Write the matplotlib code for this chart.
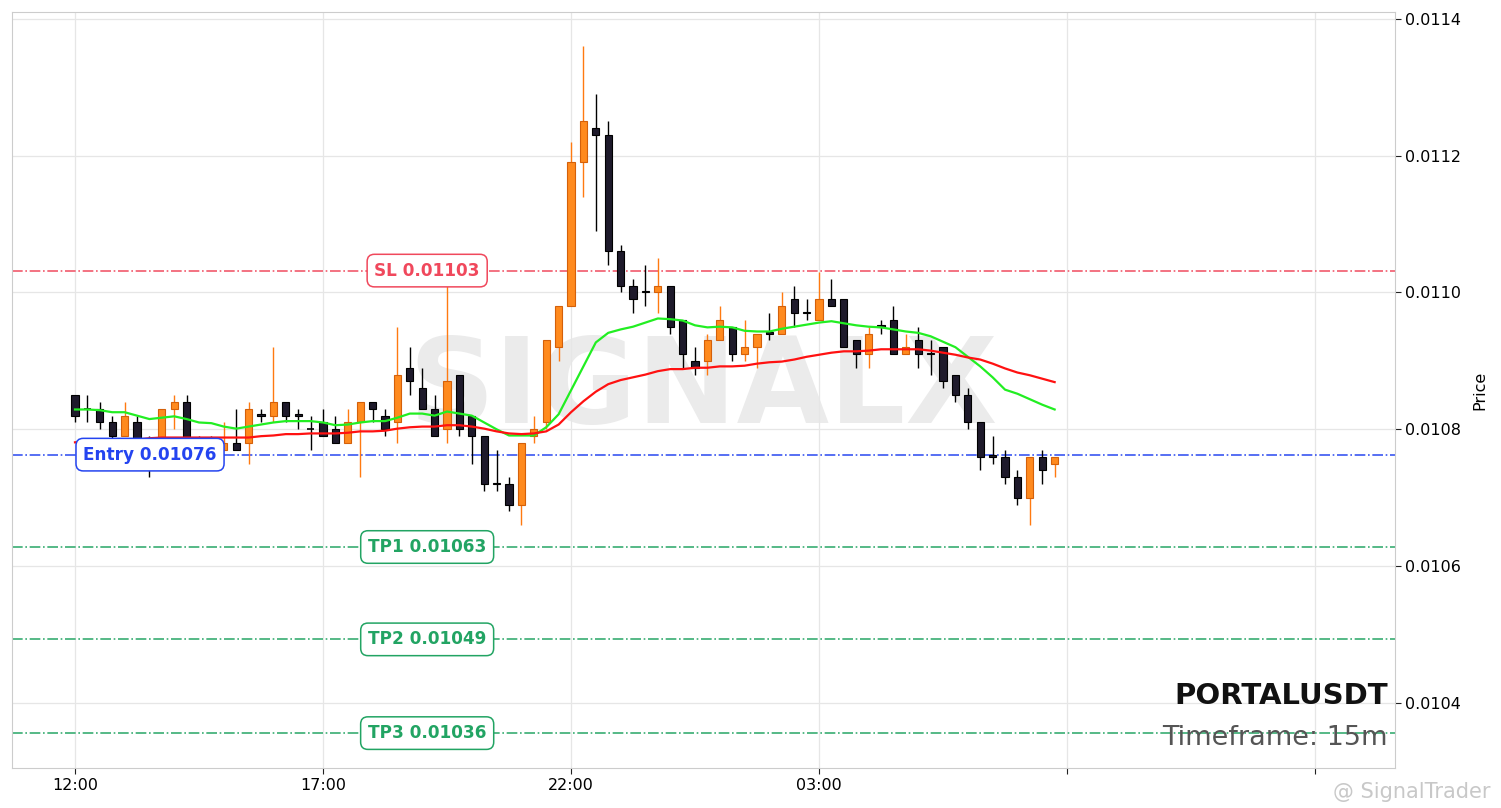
import numpy as np
import matplotlib
matplotlib.use("Agg")
import matplotlib.pyplot as plt

# 15m candles, 12:00 -> 07:45
opens = [0.01085, 0.01083, 0.01083, 0.01081, 0.01079, 0.01081, 0.01078, 0.01078, 0.01083, 0.01084,
         0.010785, 0.01078, 0.01077, 0.01078, 0.01078, 0.010822, 0.01082, 0.01084, 0.010822, 0.010801,
         0.01081, 0.01080, 0.01078, 0.01081, 0.01084, 0.01082, 0.01081, 0.01089, 0.01086, 0.01083,
         0.01080, 0.01088, 0.01082, 0.01079, 0.010722, 0.01072, 0.01069, 0.01079, 0.01081, 0.01092,
         0.01098, 0.01119, 0.01124, 0.01123, 0.01106, 0.01101, 0.011002, 0.01100, 0.01101, 0.01096,
         0.01090, 0.01090, 0.01093, 0.01095, 0.01091, 0.01092, 0.010942, 0.01094, 0.01099, 0.010972,
         0.01096, 0.01099, 0.01099, 0.01093, 0.01091, 0.010952, 0.01096, 0.01091, 0.01093, 0.010912,
         0.01092, 0.01088, 0.01085, 0.01081, 0.010762, 0.01076, 0.01073, 0.01070, 0.01076, 0.01075]
highs = [0.01085, 0.01085, 0.01084, 0.01082, 0.01084, 0.01082, 0.01079, 0.01083, 0.01085, 0.01085,
         0.01079, 0.01079, 0.01081, 0.01083, 0.01084, 0.01083, 0.01092, 0.01084, 0.01083, 0.01082,
         0.01083, 0.01082, 0.01083, 0.01084, 0.01084, 0.01083, 0.01095, 0.01092, 0.01089, 0.01085,
         0.01101, 0.01088, 0.01082, 0.01079, 0.01077, 0.01073, 0.01078, 0.01082, 0.01093, 0.01098,
         0.01122, 0.01136, 0.01129, 0.01125, 0.01107, 0.01102, 0.01104, 0.01105, 0.01101, 0.01096,
         0.01092, 0.01094, 0.01098, 0.01095, 0.01096, 0.01094, 0.01097, 0.01100, 0.01101, 0.01099,
         0.01103, 0.01102, 0.01099, 0.01093, 0.01095, 0.01096, 0.01098, 0.01094, 0.01095, 0.01093,
         0.01092, 0.01088, 0.01086, 0.01081, 0.01079, 0.01077, 0.01074, 0.01076, 0.01077, 0.01076]
lows = [0.01081, 0.01081, 0.01080, 0.01078, 0.01079, 0.01077, 0.01073, 0.01078, 0.01080, 0.01077,
        0.01077, 0.01077, 0.01077, 0.01077, 0.01075, 0.01081, 0.01081, 0.01081, 0.01080, 0.01077,
        0.01079, 0.01078, 0.01078, 0.01073, 0.01081, 0.01079, 0.01078, 0.01085, 0.01083, 0.01079,
        0.01078, 0.01079, 0.01075, 0.01071, 0.01071, 0.01068, 0.01066, 0.01078, 0.01080, 0.01090,
        0.01098, 0.01114, 0.01109, 0.01104, 0.01100, 0.01097, 0.01098, 0.01097, 0.01094, 0.01089,
        0.01088, 0.01088, 0.01093, 0.01090, 0.01090, 0.01089, 0.01093, 0.01094, 0.01095, 0.01096,
        0.01096, 0.01098, 0.01092, 0.01089, 0.01089, 0.01094, 0.01091, 0.01091, 0.01089, 0.01088,
        0.01086, 0.01084, 0.01080, 0.01074, 0.01075, 0.01072, 0.01069, 0.01066, 0.01072, 0.01073]
closes = [0.01082, 0.01083, 0.01081, 0.01079, 0.01082, 0.01078, 0.01077, 0.01083, 0.01084, 0.01078,
          0.01078, 0.010778, 0.01078, 0.01077, 0.01083, 0.01082, 0.01084, 0.01082, 0.01082, 0.01080,
          0.01079, 0.01078, 0.01081, 0.01084, 0.01083, 0.01080, 0.01088, 0.01087, 0.01083, 0.01079,
          0.01087, 0.01080, 0.01079, 0.01072, 0.01072, 0.01069, 0.01078, 0.01080, 0.01093, 0.01098,
          0.01119, 0.01125, 0.01123, 0.01106, 0.01101, 0.01099, 0.01100, 0.01101, 0.01095, 0.01091,
          0.01089, 0.01093, 0.01096, 0.01091, 0.01092, 0.01094, 0.01094, 0.01098, 0.01097, 0.01097,
          0.01099, 0.01098, 0.01092, 0.01091, 0.01094, 0.01095, 0.01091, 0.01092, 0.01091, 0.01091,
          0.01087, 0.01085, 0.01081, 0.01076, 0.01076, 0.01073, 0.01070, 0.01076, 0.01074, 0.01076]

ema_fast = [0.010829, 0.010829, 0.010828, 0.010825, 0.010825, 0.010820, 0.010815, 0.010817, 0.010819, 0.010815,
            0.010810, 0.010809, 0.010804, 0.010801, 0.010804, 0.010807, 0.010810, 0.010812, 0.010812, 0.010812,
            0.010810, 0.010806, 0.010807, 0.010810, 0.010812, 0.010812, 0.010817, 0.010823, 0.010823, 0.010820,
            0.010826, 0.010823, 0.010820, 0.010810, 0.010800, 0.010791, 0.010791, 0.010791, 0.010803, 0.010822,
            0.010857, 0.010892, 0.010927, 0.010941, 0.010946, 0.010950, 0.010956, 0.010962, 0.010961, 0.010959,
            0.010952, 0.010949, 0.010950, 0.010949, 0.010944, 0.010943, 0.010943, 0.010947, 0.010950, 0.010953,
            0.010956, 0.010958, 0.010955, 0.010952, 0.010950, 0.010949, 0.010946, 0.010943, 0.010941, 0.010936,
            0.010928, 0.010920, 0.010906, 0.010892, 0.010876, 0.010858, 0.010852, 0.010844, 0.010836, 0.010829]
ema_slow = [0.010781, 0.010782, 0.010784, 0.010785, 0.010785, 0.010785, 0.010787, 0.010788, 0.010788, 0.010788,
            0.010788, 0.010788, 0.010788, 0.010788, 0.010788, 0.010790, 0.010791, 0.010793, 0.010793, 0.010794,
            0.010794, 0.010794, 0.010795, 0.010797, 0.010797, 0.010798, 0.010801, 0.010803, 0.010804, 0.010804,
            0.010806, 0.010806, 0.010804, 0.010801, 0.010797, 0.010794, 0.010793, 0.010794, 0.010797, 0.010807,
            0.010825, 0.010841, 0.010855, 0.010866, 0.010872, 0.010876, 0.010880, 0.010885, 0.010888, 0.010888,
            0.010890, 0.010890, 0.010892, 0.010892, 0.010893, 0.010896, 0.010898, 0.010899, 0.010902, 0.010906,
            0.010909, 0.010912, 0.010914, 0.010914, 0.010915, 0.010917, 0.010917, 0.010917, 0.010917, 0.010915,
            0.010912, 0.010909, 0.010905, 0.010902, 0.010896, 0.010889, 0.010883, 0.010879, 0.010874, 0.010869]

entry = 0.010763
sl = 0.011032
tps = [0.010628, 0.010493, 0.010356]
tick_pos = [0, 20, 40, 60, 80, 100]
tick_labels = ["12:00", "17:00", "22:00", "03:00", "", ""]
symbol = "PORTALUSDT"
timeframe = "15m"

UP = "#ff8a1e"
UP_EDGE = "#d4600a"
DOWN = "#1e1a2b"
SL_C = "#f0485c"
ENTRY_C = "#2444f0"
TP_C = "#22a463"

fig = plt.figure(figsize=(15.01, 8.08), dpi=100)
ax = fig.add_axes([0.008, 0.0495, 0.9214, 0.9357])

# watermark
ax.text(0.5, 0.5, "SIGNALX", transform=ax.transAxes, ha="center", va="center",
        fontsize=86, fontweight="bold", color="#ebebeb", zorder=0)

x = np.arange(len(opens))
w = 0.58
for i in x:
    o, h, l, c = opens[i], highs[i], lows[i], closes[i]
    up = c > o
    col = UP if up else DOWN
    edge = UP_EDGE if up else "#000000"
    wick = "#ff7a10" if up else "#000000"
    ax.vlines(i, l, h, color=wick, linewidth=1.0, zorder=2)
    bottom = min(o, c)
    height = abs(c - o)
    if height < 0.0000015:
        ax.hlines(o, i - w / 2, i + w / 2, color=edge, linewidth=1.2, zorder=3)
    else:
        ax.bar(i, height, w, bottom=bottom, color=col, edgecolor=edge, linewidth=0.8, zorder=3)

ax.plot(x, ema_fast, color="#22ee22", linewidth=1.6, zorder=4)
ax.plot(x, ema_slow, color="#ff1111", linewidth=1.6, zorder=4)

# trade levels
box = dict(boxstyle="round,pad=0.43", fc="white", lw=1.1)
fs = 12.2
ax.axhline(sl, color=SL_C, linestyle="-.", linewidth=1.2, alpha=0.9, zorder=1)
ax.text(28.4, sl, f"SL {sl:.5f}", color=SL_C, fontsize=fs, fontweight="bold",
        ha="center", va="center", bbox=dict(box, ec=SL_C), zorder=6)
ax.axhline(entry, color=ENTRY_C, linestyle="-.", linewidth=1.2, alpha=0.9, zorder=1)
ax.text(6.05, entry, f"Entry {entry:.5f}", color=ENTRY_C, fontsize=fs, fontweight="bold",
        ha="center", va="center", bbox=dict(box, ec=ENTRY_C), zorder=6)
for k, tp in enumerate(tps):
    ax.axhline(tp, color=TP_C, linestyle="-.", linewidth=1.2, alpha=0.9, zorder=1)
    ax.text(28.4, tp, f"TP{k + 1} {tp:.5f}", color=TP_C, fontsize=fs, fontweight="bold",
            ha="center", va="center", bbox=dict(box, ec=TP_C), zorder=6)

ax.set_xlim(-5.08, 106.45)
ax.set_ylim(0.010305, 0.011410)
ax.set_xticks(tick_pos)
ax.set_xticklabels(tick_labels)
ax.set_yticks([0.0104, 0.0106, 0.0108, 0.0110, 0.0112, 0.0114])
ax.yaxis.set_major_formatter(matplotlib.ticker.FormatStrFormatter("%.4f"))
ax.yaxis.tick_right()
ax.yaxis.set_label_position("right")
ax.set_ylabel("Price", fontsize=11.5, labelpad=8)
ax.tick_params(labelsize=11.5, length=4, color="#222222")
ax.grid(True, color="#e6e6e6", linewidth=0.9)
ax.set_axisbelow(True)
for s in ax.spines.values():
    s.set_color("#cccccc")

ax.text(0.995, 0.085, symbol, transform=ax.transAxes, ha="right", va="baseline",
        fontsize=21, fontweight="bold", color="#111111", zorder=7)
ax.text(0.995, 0.03, f"Timeframe: {timeframe}", transform=ax.transAxes, ha="right", va="baseline",
        fontsize=19.5, color="#555555", zorder=7)

fig.text(0.993, 0.02, "@ SignalTrader", ha="right", va="center", fontsize=15, color="#c8c8c8")

fig.savefig("out.png", dpi=100)
